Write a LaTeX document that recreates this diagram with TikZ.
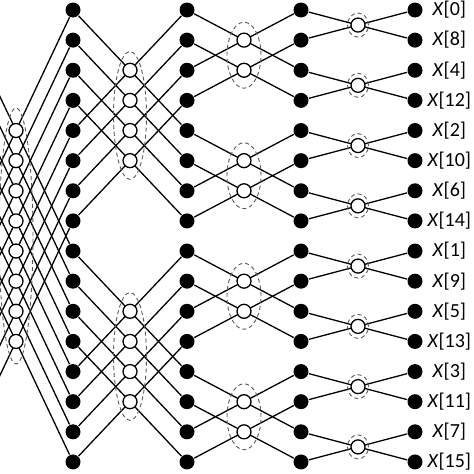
\documentclass[tikz,border=0pt]{standalone}
\usepackage{fontspec}
\setmainfont{Carlito}
\usetikzlibrary{calc}
\usetikzlibrary{positioning}
\tikzset{
	dot/.style={
		circle,
		fill=black,
		inner sep=0pt,
		minimum size=15pt
	},
	adder/.style={
		circle,
		draw,
		fill=white,
		inner sep=0pt,
		minimum size=14pt
	},
	group/.style={
		draw=black!65,
		line width=0.9pt,
		dash pattern=on 4pt off 3pt
	},
	lbl/.style={
		text width=51pt,
		align=center,
		inner sep=0pt,
		font=\fontsize{20}{22}\selectfont
	},
}

\begin{document}
\begin{tikzpicture}[x=1pt,y=-1pt,line width=1.3pt]
\useasboundingbox (0,0) rectangle (474,474);
\clip (0,0) rectangle (474,474);
% columns of dots (column 0 lies left of the frame)
\foreach \c/\x in {0/-41,1/73,2/187,3/301,4/415}
	\foreach \r in {0,...,15}
		\node [dot] (n\c-\r) at (\x,{10+30.13*\r}) {};
% crossing lines
\foreach \s/\h in {1/8,2/4,3/2,4/1} {
	\pgfmathtruncatemacro\p{\s-1}
	\foreach \r in {0,...,15} {
		\pgfmathtruncatemacro\q{\r+\h*(1-2*floor(mod(\r,2*\h)/\h))}
		\draw (n\p-\r) -- (n\s-\q);
	}
}
% open circles and dashed groups
\foreach \s/\h/\rx/\ry in {1/8/17pt/128pt,2/4/16.5pt/64pt,3/2/17pt/33pt,4/1/10.5pt/12pt} {
	\pgfmathtruncatemacro\p{\s-1}
	\pgfmathtruncatemacro\nb{8/\h-1}
	\foreach \k in {0,...,\nb} {
		\pgfmathtruncatemacro\f{2*\h*\k}
		\pgfmathtruncatemacro\l{\f+\h-1}
		\foreach \r in {\f,...,\l} {
			\pgfmathtruncatemacro\q{\r+\h}
			\node [adder] (a\s-\r) at ($(n\p-\r)!0.5!(n\s-\q)$) {};
		}
		\draw [group] ($(a\s-\f)!0.5!(a\s-\l)$) ellipse [x radius=\rx, y radius=\ry];
	}
}
% outputs
\foreach \r/\k in {0/0,1/8,2/4,3/12,4/2,5/10,6/6,7/14,8/1,9/9,10/5,11/13,12/3,13/11,14/7,15/15}
	\node [lbl, right=0pt of n4-\r] (x\r) {\textit{X}[\k]};
\end{tikzpicture}
\end{document}
